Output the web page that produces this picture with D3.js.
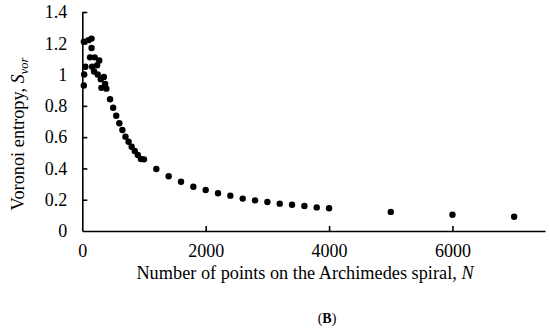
<!DOCTYPE html>
<html><head><meta charset="utf-8">
<script src="https://cdn.jsdelivr.net/npm/d3@7"></script>
<style>body{margin:0;background:#fff}svg{display:block}</style>
</head><body>
<svg id="c" width="550" height="330"></svg>
<script>
const nValues = [25,30,50,25,100,150,150,125,200,275,240,160,190,250,300,350,370,310,390,
  450,500,550,600,650,700,750,800,850,900,950,1000,
  1200,1400,1600,1800,2000,2200,2400,2600,2800,3000,3200,3400,3600,3800,4000,
  5000,6000,7000];
const sValues = [0.93,1.0,1.05,1.21,1.22,1.23,1.17,1.11,1.11,1.09,1.06,1.05,1.02,1.0,0.97,0.985,0.94,0.915,0.91,
  0.842,0.788,0.737,0.689,0.646,0.603,0.571,0.539,0.511,0.486,0.46,0.458,
  0.396,0.350,0.315,0.283,0.262,0.241,0.226,0.207,0.196,0.185,0.175,0.168,0.160,0.151,0.145,
  0.122,0.104,0.091];
const xTicks = [0,2000,4000,6000];
const yTicks = [0,0.2,0.4,0.6,0.8,1,1.2,1.4];

const svg = d3.select("#c");
const x = d3.scaleLinear().domain([0,7500]).range([82.3,545]);
const y = d3.scaleLinear().domain([0,1.4]).range([231,12]);
const font = "'Liberation Serif','Times New Roman',serif";

const xa = svg.append("g").attr("transform","translate(0,231)")
  .call(d3.axisBottom(x).tickValues(xTicks).tickSizeInner(-5).tickSizeOuter(0).tickPadding(13).tickFormat(d3.format("d")));
const ya = svg.append("g").attr("transform","translate(82.3,0)")
  .call(d3.axisLeft(y).tickValues(yTicks).tickSizeInner(-5).tickSizeOuter(0).tickPadding(15).tickFormat(d=>String(d)));
[xa,ya].forEach(a=>{
  a.selectAll("path,line").attr("stroke","#000").attr("stroke-width",1.6);
  a.selectAll("text").attr("fill","#000").style("font-family",font).style("font-size","18px");
});
xa.select(".tick:first-of-type line").remove();
ya.select(".tick:first-of-type line").remove();

svg.append("g").selectAll("circle").data(nValues.map((n,i)=>[n,sValues[i]])).join("circle")
  .attr("cx",d=>x(d[0])).attr("cy",d=>y(d[1])).attr("r",3.2).attr("fill","#000");

const xt = svg.append("text").attr("x",305).attr("y",279).attr("text-anchor","middle")
  .style("font-family",font).style("font-size","18.3px").attr("fill","#000");
xt.append("tspan").text("Number of points on the Archimedes spiral, ");
xt.append("tspan").style("font-style","italic").text("N");

const yt = svg.append("text").attr("transform","translate(24,134) rotate(-90)").attr("text-anchor","middle")
  .style("font-family",font).style("font-size","18.3px").attr("fill","#000");
yt.append("tspan").text("Voronoi entropy, ");
yt.append("tspan").style("font-style","italic").text("S");
yt.append("tspan").style("font-style","italic").style("font-size","12.5px").attr("dy",4).text("vor");

svg.append("text").attr("x",327).attr("y",323).attr("text-anchor","middle")
  .style("font-family",font).style("font-size","14px").attr("fill","#000")
  .html('(<tspan font-weight="bold">B</tspan>)');
</script>
</body></html>
